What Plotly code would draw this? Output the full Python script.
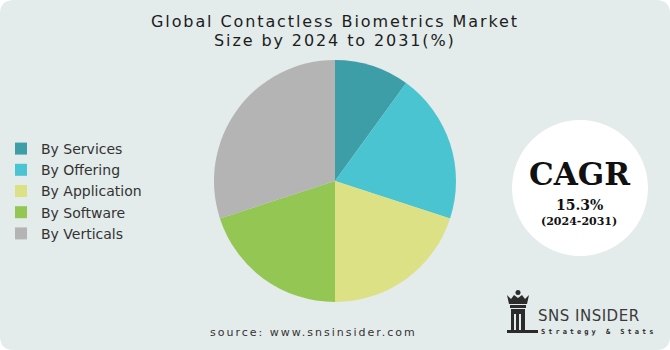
import plotly.graph_objects as go

W, H = 670, 350

categories = ["By Services", "By Offering", "By Application", "By Software", "By Verticals"]
shares = [10, 20, 20, 20, 30]
colors = ["#3d9ea8", "#4bc4d2", "#dbe184", "#93c653", "#b3b4b3"]

title_lines = ["Global Contactless Biometrics Market", "Size by 2024 to 2031(%)"]
cagr_value = "15.3%"
cagr_period = "(2024-2031)"
source_text = "source: www.snsinsider.com"


def px(x):
    return x / W


def py(y):
    return 1 - y / H


def rounded_rect(x0, y0, x1, y1, r):
    pts = [
        f"M {px(x0 + r)} {py(y0)}",
        f"L {px(x1 - r)} {py(y0)}",
        f"Q {px(x1)} {py(y0)} {px(x1)} {py(y0 + r)}",
        f"L {px(x1)} {py(y1 - r)}",
        f"Q {px(x1)} {py(y1)} {px(x1 - r)} {py(y1)}",
        f"L {px(x0 + r)} {py(y1)}",
        f"Q {px(x0)} {py(y1)} {px(x0)} {py(y1 - r)}",
        f"L {px(x0)} {py(y0 + r)}",
        f"Q {px(x0)} {py(y0)} {px(x0 + r)} {py(y0)}",
        "Z",
    ]
    return " ".join(pts)


fig = go.Figure()
fig.add_trace(go.Pie(
    labels=categories,
    values=shares,
    marker=dict(colors=colors, line=dict(width=0)),
    sort=False,
    direction="clockwise",
    rotation=0,
    textinfo="none",
    hoverinfo="label+percent",
    domain=dict(x=[px(214), px(456)], y=[py(302), py(60)]),
))

shapes = [
    dict(type="path", xref="paper", yref="paper", path=rounded_rect(0, 0, 670, 350, 14),
         fillcolor="#e3ebeb", line=dict(width=0), layer="below"),
    dict(type="circle", xref="paper", yref="paper", x0=px(512), x1=px(648), y0=py(256), y1=py(120),
         fillcolor="#ffffff", line=dict(width=0), layer="below"),
    # logo icon (rook with crown)
    dict(type="circle", xref="paper", yref="paper", x0=px(515.5), x1=px(520.5), y0=py(295), y1=py(290),
         fillcolor="#2b2b2b", line=dict(width=0)),
    dict(type="path", xref="paper", yref="paper",
         path=(f"M {px(507)} {py(295)} L {px(511)} {py(299)} L {px(514)} {py(295)} L {px(518)} {py(298)} "
               f"L {px(522)} {py(295)} L {px(525)} {py(299)} L {px(529)} {py(295)} L {px(527)} {py(304)} "
               f"L {px(509)} {py(304)} Z"),
         fillcolor="#2b2b2b", line=dict(width=0)),
    dict(type="rect", xref="paper", yref="paper", x0=px(510), x1=px(526), y0=py(308), y1=py(305),
         fillcolor="#2b2b2b", line=dict(width=0)),
    dict(type="rect", xref="paper", yref="paper", x0=px(511), x1=px(525), y0=py(330), y1=py(309),
         fillcolor="#2b2b2b", line=dict(width=0)),
    dict(type="rect", xref="paper", yref="paper", x0=px(514), x1=px(516), y0=py(330), y1=py(314),
         fillcolor="#e3ebeb", line=dict(width=0)),
    dict(type="rect", xref="paper", yref="paper", x0=px(519), x1=px(521), y0=py(330), y1=py(314),
         fillcolor="#e3ebeb", line=dict(width=0)),
    dict(type="rect", xref="paper", yref="paper", x0=px(507), x1=px(538), y0=py(333), y1=py(330),
         fillcolor="#2b2b2b", line=dict(width=0)),
]

annotations = [
    dict(text=f'<span style="letter-spacing:1.9px">{title_lines[0]}</span>', x=px(335), y=py(21),
         font=dict(family="DejaVu Sans", size=16, color="#1c1c1c")),
    dict(text=f'<span style="letter-spacing:1.9px">{title_lines[1]}</span>', x=px(335), y=py(40),
         font=dict(family="DejaVu Sans", size=16, color="#1c1c1c")),
    dict(text="<b>CAGR</b>", x=px(579), y=py(174),
         font=dict(family="DejaVu Serif", size=31, color="#111111")),
    dict(text=f"<b>{cagr_value}</b>", x=px(579), y=py(205),
         font=dict(family="DejaVu Serif", size=14, color="#111111")),
    dict(text=f"<b>{cagr_period}</b>", x=px(579), y=py(222),
         font=dict(family="DejaVu Serif", size=11, color="#111111")),
    dict(text=f'<span style="letter-spacing:2px">{source_text}</span>', x=px(313), y=py(332),
         font=dict(family="DejaVu Sans", size=11, color="#333333")),
    dict(text='<span style="letter-spacing:0.5px">SNS INSIDER</span>', x=px(536), y=py(316), xanchor="left",
         font=dict(family="DejaVu Sans", size=15, color="#3a3a3a")),
    dict(text='<b><span style="letter-spacing:3px">Strategy &amp; Stats</span></b>', x=px(539), y=py(332),
         xanchor="left", font=dict(family="DejaVu Sans Mono", size=7, color="#2b2b2b")),
]
for a in annotations:
    a.setdefault("xref", "paper")
    a.setdefault("yref", "paper")
    a.setdefault("showarrow", False)
    a.setdefault("xanchor", "center")
    a.setdefault("yanchor", "middle")

fig.update_layout(
    width=W, height=H,
    margin=dict(l=0, r=0, t=0, b=0),
    paper_bgcolor="#ffffff",
    plot_bgcolor="rgba(0,0,0,0)",
    shapes=shapes,
    annotations=annotations,
    showlegend=True,
    legend=dict(
        x=px(1), y=py(133), xanchor="left", yanchor="top",
        bgcolor="rgba(0,0,0,0)",
        font=dict(family="DejaVu Sans", size=14, color="#333333"),
        traceorder="normal",
    ),
)

fig.write_html("out.html")
